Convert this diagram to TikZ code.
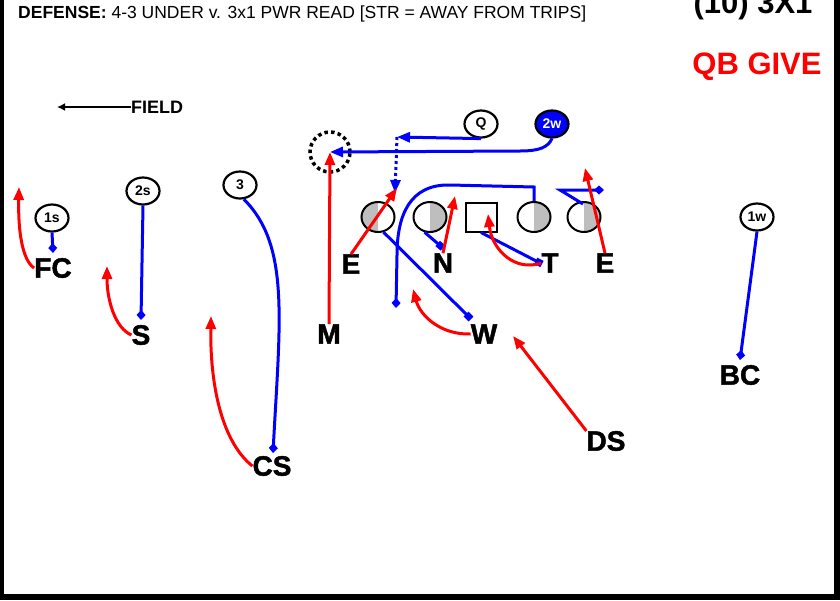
\documentclass[tikz,border=0pt]{standalone}
\usepackage{fontspec}
\setmainfont{Liberation Sans}
\newfontfamily\heavyfont[FakeBold=1.6]{Liberation Sans Bold}
\usetikzlibrary{arrows.meta,shapes.geometric}
\definecolor{lgray}{RGB}{190,190,190}
\begin{document}
\begin{tikzpicture}[x=1pt,y=-1pt,
  bl/.style={draw=blue,line width=3pt},
  rd/.style={draw=red,line width=3pt,-{Triangle[length=13pt,width=10pt]}},
  dia/.style={-{Diamond[length=10pt,width=9pt]}},
  sq/.style={-{Square[length=7pt,width=7pt]}},
  barr/.style={-{Triangle[length=13pt,width=10pt]}},
  lbl/.style={font=\fontsize{28}{28}\heavyfont,inner sep=0pt},
  rcv/.style={ellipse,draw,line width=2.2pt,minimum width=33pt,minimum height=27pt,inner sep=0pt,fill=white,font=\fontsize{14}{14}\selectfont\bfseries},
  olR/.style={ellipse,draw,line width=2pt,minimum width=33pt,minimum height=30pt,inner sep=0pt,
     path picture={\fill[lgray] (path picture bounding box.north) rectangle (path picture bounding box.south east);}},
  olL/.style={ellipse,draw,line width=2pt,minimum width=33pt,minimum height=30pt,inner sep=0pt,
     path picture={\fill[lgray] (path picture bounding box.north) rectangle (path picture bounding box.south west);}},
  ctr/.style={rectangle,draw,line width=2pt,minimum width=31pt,minimum height=29pt,inner sep=0pt}
]
\clip (0,0) rectangle (840,600);
% frame
\fill[black] (0,-10) rectangle (840,600);
\fill[white] (4,-10) rectangle (834,594);

% titles
\node[anchor=base west,inner sep=0pt] (title) at (18,18) {\fontsize{17.5}{17.5}\selectfont\textbf{DEFENSE:} 4-3 UNDER v. 3x1 PWR READ [STR = AWAY FROM TRIPS]};
\node[anchor=base,inner sep=0pt] (form) at (753,13) {\fontsize{31}{31}\selectfont\bfseries (10) 3X1};
\node[inner sep=0pt,text=red] (give) at (757,67) {\fontsize{31}{31}\selectfont\bfseries QB GIVE};
\node[anchor=west,inner sep=0pt] (field) at (131,107) {\fontsize{18}{18}\selectfont\bfseries FIELD};
\coordinate (fieldend) at (57,107);
\draw[line width=1.8pt,-{Latex[length=8pt,width=8pt]}] (field.west) -- (fieldend);

% offensive line
\node[olL] (LT) at (378,217) {};
\node[olR] (LG) at (430,217) {};
\node[ctr] (C) at (481,217) {};
\node[olR] (RG) at (534,217) {};
\node[olR] (RT) at (584,217) {};

% receivers / backs
\node[rcv] (r1s) at (52,218) {1s};
\node[rcv] (r2s) at (143,191) {2s};
\node[rcv] (r3) at (240,185) {3};
\node[rcv] (r1w) at (757,217) {1w};
\node[rcv] (Q) at (481,124) {Q};
\node[rcv,fill=blue,text=white] (w2) at (552,124) {2w};
\node[circle,draw,line width=3.5pt,dash pattern=on 3.5pt off 3.2pt,minimum size=40pt,inner sep=0pt] (dc) at (330,152) {};

% defenders
\node[lbl] (FC) at (53,268) {FC};
\node[lbl] (S) at (141,335) {S};
\node[lbl] (CS) at (272,466) {CS};
\node[lbl] (M) at (329,334) {M};
\node[lbl] (EL) at (351,264) {E};
\node[lbl] (N) at (443,263) {N};
\node[lbl] (T) at (550,263) {T};
\node[lbl] (ER) at (605,263) {E};
\node[lbl] (W) at (484,334) {W};
\node[lbl] (DS) at (606,441) {DS};
\node[lbl] (BC) at (740,375) {BC};

% coordinates
\coordinate (fcm) at (53,253);
\coordinate (sm) at (141,320);
\coordinate (csm) at (273,453);
\coordinate (bcm) at (740,360);
\coordinate (qturn) at (397,137);
\coordinate (qend) at (395,193);
\coordinate (rgtop) at (534,187);
\coordinate (rgmid) at (450,185);
\coordinate (rgend) at (396,308);
\coordinate (rta) at (583,204);
\coordinate (rtb) at (560,190);
\coordinate (rtc) at (604,190);
\coordinate (ltw) at (471,319);
\coordinate (lgn) at (443,248);
\coordinate (ct) at (542,264);

% blue assignments
\draw[bl,dia] (r1s.south) -- (fcm);
\draw[bl,dia] (r2s.south) -- (sm);
\draw[bl,dia] (r3.-75) .. controls (290,245) and (280,320) .. (csm);
\draw[bl,dia] (r1w.south) -- (bcm);
\draw[bl,barr] (Q.south) -- (qturn);
\draw[draw=blue,line width=3pt,dash pattern=on 3pt off 3pt,barr] (qturn) -- (qend);
\draw[bl,barr] (w2.south) .. controls (548,147) and (540,151) .. (520,151) -- (dc.center);
\draw[bl,dia] (RG.north) -- (rgtop) -- (rgmid) .. controls (410,184) and (397,215) .. (397,255) -- (rgend);
\draw[bl,dia] (rta) -- (rtb) -- (rtc);
\draw[bl,sq] (LT.-70) -- (ltw);
\draw[bl,sq] (LG.-110) -- (lgn);
\draw[bl,sq] (C.south) -- (ct);

% red reactions
\draw[rd] (FC.west) .. controls (22,260) and (18,230) .. (19,187);
\draw[rd] (S.west) .. controls (115,328) and (107,300) .. (107,266);
\draw[rd] (CS.west) .. controls (220,440) and (210,380) .. (211,316);
\draw[rd] (M.north) -- (dc.center);
\draw[rd] (EL.north) -- (397,188);
\draw[rd] (N.north) -- (455,196);
\draw[rd] (ER.north) -- (585,168);
\draw[rd] (T.west) .. controls (515,272) and (492,250) .. (488,214);
\draw[rd] (W.west) .. controls (440,335) and (420,315) .. (413,289);
\draw[rd] (DS.north west) -- (513,336);
\end{tikzpicture}
\end{document}
